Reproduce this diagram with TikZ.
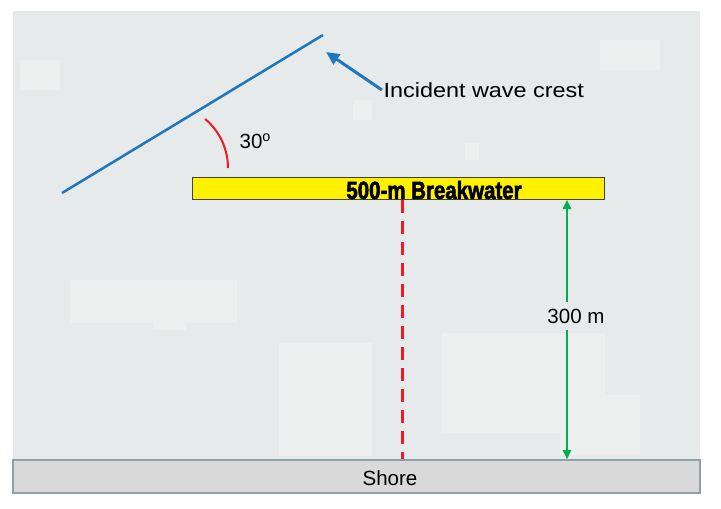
\documentclass[tikz,border=0pt]{standalone}
\usepackage{fontspec}
\setmainfont{Liberation Sans}
\newfontfamily\widefont[FakeStretch=1.14]{Liberation Sans}
\newfontfamily\bwfont[FakeStretch=0.83,FakeBold=2.2]{Liberation Sans}
\usetikzlibrary{arrows.meta,positioning}

\definecolor{crestblue}{RGB}{31,119,190}
\definecolor{anglered}{RGB}{236,28,36}
\definecolor{distgreen}{RGB}{0,176,80}
\definecolor{camobase}{RGB}{231,234,234}
\definecolor{camolight}{RGB}{237,239,238}
\definecolor{shoregray}{RGB}{217,217,217}
\definecolor{shoreline}{RGB}{140,162,167}

\tikzset{
  lbl/.style={font=\fontsize{15.4}{17}\selectfont, inner sep=1pt},
  shorebox/.style={draw=shoreline, line width=1.2pt, fill=shoregray, minimum width=515pt, minimum height=24.5pt, inner sep=0pt},
  bwbox/.style={draw=black!75, line width=0.6pt, fill=yellow, minimum width=309pt, minimum height=16.5pt, inner sep=0pt},
  bwtext/.style={font=\bwfont\bfseries\fontsize{18.5}{20}\selectfont, inner sep=0pt},
  crest/.style={crestblue, line width=1.9pt},
  pointer/.style={crestblue, line width=2.25pt, -{Triangle[length=10pt,width=9pt]}},
  anglearc/.style={anglered, line width=1.5pt},
  normal/.style={anglered, line width=2.25pt, dash pattern=on 9.75pt off 6pt},
  dist/.style={distgreen, line width=1.9pt, -{Triangle[length=7pt,width=6pt]}}
}

\begin{document}
\begin{tikzpicture}[x=0.75pt,y=-0.75pt]
  \useasboundingbox (0,0) rectangle (721,508);

  % camouflage backdrop
  \fill[camobase] (13,11) rectangle (700,460);
  \foreach \xa/\ya/\xb/\yb in {70/280/237/323, 153/300/186/330, 442/333/605/433,
      279/343/372/456, 353/100/372/120, 465/143/479/160, 560/395/640/455,
      20/60/60/90, 600/40/660/70}
    \fill[camolight] (\xa,\ya) rectangle (\xb,\yb);

  % shore and breakwater
  \node[shorebox] (shore) at (356.5,476.5) {};
  \node[lbl] (shorelabel) at (390,478) {Shore};
  \node[bwbox] (bw) at (398,188.3) {};
  \node[bwtext] (bwlabel) at (434,190) {500-m Breakwater};

  % incident crest
  \coordinate (crestA) at (62,193);
  \coordinate (crestB) at (323,35);
  \draw[crest] (crestA) -- (crestB);
  \node[lbl, font=\widefont\fontsize{15.4}{17}\selectfont, anchor=west] (inc) at (382,90) {Incident wave crest};
  \coordinate (tip) at (326,52);
  \draw[pointer] (inc.west) -- (tip);

  % angle
  \draw[anglearc] (228,168) arc[start angle=0, end angle=-50, radius=64];
  \node[lbl, anchor=base west] (ang) at (238,148) {30\textsuperscript{o}};

  % normal to the breakwater
  \coordinate (mid) at (402,0);
  \draw[normal] (bw.south -| mid) -- (shore.north -| mid);

  % distance to shore
  \coordinate (gx) at (567,0);
  \node[lbl, inner ysep=5pt] (dlabel) at (576,316) {300 m};
  \draw[dist] (dlabel.north -| gx) -- (bw.south -| gx);
  \draw[dist] (dlabel.south -| gx) -- (shore.north -| gx);
\end{tikzpicture}
\end{document}
